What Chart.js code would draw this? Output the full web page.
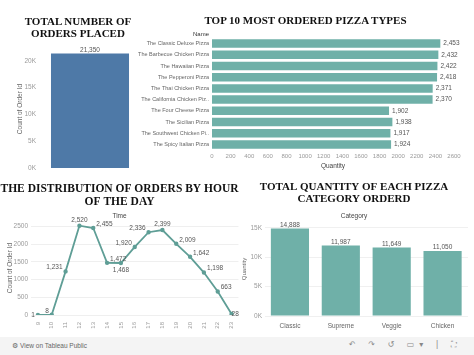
<!DOCTYPE html>
<html><head><meta charset="utf-8">
<script src="https://cdn.jsdelivr.net/npm/chart.js@4.4.0/dist/chart.umd.min.js"></script>
<style>
html,body{margin:0;padding:0;background:#fff}
body{width:474px;height:355px;overflow:hidden;position:relative;font-family:'Liberation Sans',Arial,sans-serif}
.box{position:absolute}
.ttl{position:absolute;font-family:'Liberation Serif','Times New Roman',serif;font-weight:bold;font-size:11px;line-height:12px;color:#111;text-align:center;white-space:nowrap}
#bar{position:absolute;left:0;top:337px;width:474px;height:18px;background:#f4f4f4;color:#666;font-size:6.5px}
#bar .l{position:absolute;left:12px;top:5px}
#bar .r{position:absolute;right:12px;top:3px;font-family:'DejaVu Sans';font-size:8px;color:#888;letter-spacing:5px}
</style></head><body>
<div class="box" style="left:0;top:0;width:140px;height:181px"><canvas id="c1"></canvas></div>
<div class="ttl" style="left:18px;top:15px;width:120px">TOTAL NUMBER OF<br>ORDERS PLACED</div>
<div class="box" style="left:136px;top:0;width:338px;height:178px"><canvas id="c2"></canvas></div>
<div class="ttl" style="left:195px;top:14px;width:221px">TOP 10 MOST ORDERED PIZZA TYPES</div>
<div class="box" style="left:0;top:178px;width:246px;height:158px"><canvas id="c3"></canvas></div>
<div class="box" style="left:240px;top:178px;width:234px;height:158px"><canvas id="c4"></canvas></div>
<div id="bar"><span class="l"><span style="font-family:'DejaVu Sans';font-size:7px">⚙</span> View on Tableau Public</span><span class="r">↶ ↷ ↺ ▭▾ | ⛶</span></div>
<script>
// ---- data ----
const totalOrders = [21350];
const totalTicks = [0, 5000, 10000, 15000, 20000];

const pizzaNames = ['The Classic Deluxe Pizza','The Barbecue Chicken Pizza','The Hawaiian Pizza','The Pepperoni Pizza','The Thai Chicken Pizza','The California Chicken Piz..','The Four Cheese Pizza','The Sicilian Pizza','The Southwest Chicken Pi..','The Spicy Italian Pizza'];
const pizzaQty = [2453, 2432, 2422, 2418, 2371, 2370, 1902, 1938, 1917, 1924];

const hours = ['9','10','11','12','13','14','15','16','17','18','19','20','21','22','23'];
const hourOrders = [1, 8, 1231, 2520, 2455, 1472, 1468, 1920, 2336, 2399, 2009, 1642, 1198, 663, 28];
const hourTicks = [0, 500, 1000, 1500, 2000, 2500];

const categories = ['Classic','Supreme','Veggie','Chicken'];
const categoryQty = [14888, 11987, 11649, 11050];
const categoryTicks = [0, 5000, 10000, 15000];

// ---- styles ----
const SANS = "'Liberation Sans', Arial, sans-serif";
const SERIF = "'Liberation Serif', 'Times New Roman', serif";
Chart.defaults.font.family = SANS;
Chart.defaults.animation = false;
Chart.defaults.responsive = true;
Chart.defaults.maintainAspectRatio = false;
Chart.defaults.plugins.legend.display = false;
Chart.defaults.plugins.tooltip.enabled = false;

const TICK = '#9a9a9a', AXT = '#666', LBL = '#555';
const TEAL = '#6fb0a8', LINE = '#5f9e96', BLUE = '#4e79a7';

const fmt = v => v.toLocaleString('en-US');
const kfmt = v => (v / 1000) + 'K';
const setTicks = vals => s => { s.ticks = vals.map(v => ({ value: v })); };
const fixWidth = w => s => { s.width = w; };
const fixHeight = h => s => { s.height = h; };

const valueLabels = {
  id: 'valueLabels',
  afterDatasetsDraw(chart, args, opts) {
    if (!opts || !opts.mode) return;
    const ctx = chart.ctx;
    const meta = chart.getDatasetMeta(0);
    const data = chart.data.datasets[0].data;
    ctx.save();
    ctx.font = (opts.size || 6.5) + 'px ' + SANS;
    ctx.fillStyle = LBL;
    meta.data.forEach((el, i) => {
      const v = data[i], txt = fmt(v);
      if (opts.mode === 'bar') {
        ctx.textAlign = 'center'; ctx.textBaseline = 'middle';
        ctx.fillText(txt, el.x, el.y - 3.5);
      } else if (opts.mode === 'hbar') {
        ctx.textAlign = 'left'; ctx.textBaseline = 'middle';
        ctx.fillText(txt, el.x + 3, el.y);
      } else {
        const prev = i > 0 ? data[i - 1] : null;
        const next = i < data.length - 1 ? data[i + 1] : null;
        let dx = 0, dy = 0, al = 'center';
        if (prev === null) { al = 'right'; dx = -3; }
        else if (next === null) { al = 'left'; dx = 0; }
        else if (v > prev && v > next) { dy = -6; }
        else if (v < prev && v < next) { dy = 7; }
        else if (v > prev) { al = 'right'; dx = -3; dy = -4; }
        else { al = 'left'; dx = 3; dy = -4; }
        ctx.textAlign = al; ctx.textBaseline = 'middle';
        ctx.fillText(txt, el.x + dx, el.y + dy);
      }
    });
    ctx.restore();
  }
};
const headerLabel = {
  id: 'headerLabel',
  afterDraw(chart, args, opts) {
    if (!opts || !opts.text) return;
    const ctx = chart.ctx;
    ctx.save();
    ctx.font = '6px ' + SANS;
    ctx.fillStyle = '#333';
    ctx.textAlign = 'right'; ctx.textBaseline = 'middle';
    ctx.fillText(opts.text, chart.chartArea.left - 3, chart.chartArea.top - 4);
    ctx.restore();
  }
};
Chart.register(valueLabels, headerLabel);

const titleFont = { family: SERIF, size: 11, weight: 'bold', lineHeight: 1.1 };
const small = { size: 6.5 };

// ---- chart 1 ----
new Chart(document.getElementById('c1'), {
  type: 'bar',
  data: { labels: [''], datasets: [{ data: totalOrders, backgroundColor: BLUE, barPercentage: 0.867, categoryPercentage: 1 }] },
  options: {
    layout: { padding: { left: 16, right: 5, bottom: 0, top: 50 } },
    plugins: { valueLabels: { mode: 'bar' } },
    scales: {
      x: { display: false },
      y: {
        min: 0, max: 22000,
        afterBuildTicks: setTicks(totalTicks), afterFit: fixWidth(29),
        ticks: { callback: kfmt, color: TICK, font: small, padding: 9, autoSkip: false },
        grid: { display: false, drawTicks: false }, border: { display: false },
        title: { display: true, text: 'Count of Order Id', color: AXT, font: small, padding: { top: 0, bottom: 0 } }
      }
    }
  }
});

// ---- chart 2 ----
new Chart(document.getElementById('c2'), {
  type: 'bar',
  data: { labels: pizzaNames, datasets: [{ data: pizzaQty, backgroundColor: TEAL, barPercentage: 0.76, categoryPercentage: 1 }] },
  options: {
    indexAxis: 'y',
    layout: { padding: { left: 0, right: 20, bottom: 0, top: 38 } },
    plugins: {
      valueLabels: { mode: 'hbar' },
      headerLabel: { text: 'Name' }
    },
    scales: {
      x: {
        min: 0, max: 2600, afterFit: fixHeight(28),
        ticks: { stepSize: 200, callback: v => String(v), color: TICK, font: { size: 6 }, padding: 3, autoSkip: false, maxRotation: 0 },
        grid: { display: false, drawTicks: false }, border: { display: false },
        title: { display: true, text: 'Quantity', color: '#444', font: small, padding: { top: 0, bottom: 8 } }
      },
      y: {
        afterFit: fixWidth(76),
        ticks: { color: AXT, font: { size: 5.5 }, padding: 3, autoSkip: false },
        grid: { display: false, drawTicks: false }, border: { display: false }
      }
    }
  }
});

// ---- chart 3 ----
new Chart(document.getElementById('c3'), {
  type: 'line',
  data: { labels: hours, datasets: [{ data: hourOrders, borderColor: LINE, backgroundColor: LINE, borderWidth: 1.8, pointRadius: 1.3, tension: 0 }] },
  options: {
    layout: { padding: { left: 0, right: 7, bottom: 0, top: 0 }, autoPadding: false },
    plugins: {
      title: { display: true, text: ['THE DISTRIBUTION OF ORDERS BY HOUR', 'OF THE DAY'], font: { family: SERIF, size: 11.5, weight: 'bold', lineHeight: 1.1 }, color: '#111', padding: { top: 5, bottom: 2 } },
      subtitle: { display: true, text: 'Time', color: '#444', font: small, padding: { top: 2, bottom: 1 } },
      valueLabels: { mode: 'line' }
    },
    scales: {
      x: {
        offset: true, afterFit: fixHeight(21),
        ticks: { color: TICK, font: { size: 6 }, minRotation: 90, maxRotation: 90, autoSkip: false, padding: 7 },
        grid: { display: false, drawTicks: false }, border: { display: false }
      },
      y: {
        min: 0, max: 2650,
        afterBuildTicks: setTicks(hourTicks), afterFit: fixWidth(31),
        ticks: { color: TICK, font: small, padding: 3, autoSkip: false, callback: v => String(v) },
        grid: { color: '#efefef', drawTicks: false }, border: { display: false },
        title: { display: true, text: 'Count of Order Id', color: AXT, font: small, padding: { top: 6, bottom: 0 } }
      }
    }
  }
});

// ---- chart 4 ----
new Chart(document.getElementById('c4'), {
  type: 'bar',
  data: { labels: categories, datasets: [{ data: categoryQty, backgroundColor: TEAL, barPercentage: 0.75, categoryPercentage: 1 }] },
  options: {
    layout: { padding: { left: 0, right: 6, bottom: 0, top: 0 } },
    plugins: {
      title: { display: true, text: ['TOTAL QUANTITY OF EACH PIZZA', 'CATEGORY ORDERD'], font: titleFont, color: '#111', padding: { top: 3, bottom: 3 } },
      subtitle: { display: true, text: 'Category', color: '#444', font: small, padding: { top: 4, bottom: 2 } },
      valueLabels: { mode: 'bar' }
    },
    scales: {
      x: {
        afterFit: fixHeight(20),
        ticks: { color: AXT, font: small, padding: 6 },
        grid: { display: false, drawTicks: false }, border: { display: false }
      },
      y: {
        min: 0, max: 16000,
        afterBuildTicks: setTicks(categoryTicks), afterFit: fixWidth(24.5),
        ticks: { callback: kfmt, color: TICK, font: small, padding: 2.5, autoSkip: false },
        grid: { color: '#f0f0f0', drawTicks: false }, border: { display: false },
        title: { display: true, text: 'Quantity', color: AXT, font: { size: 6 }, padding: { top: 1, bottom: 0 } }
      }
    }
  }
});
</script>
</body></html>
